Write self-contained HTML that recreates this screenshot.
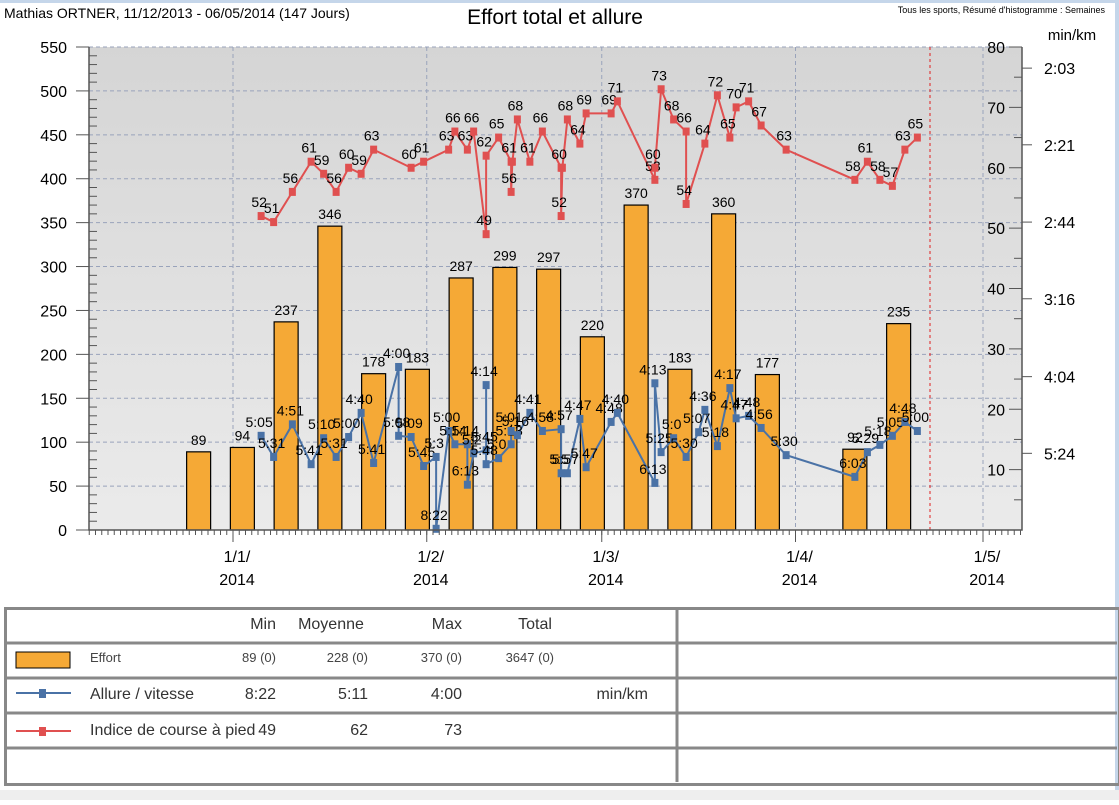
<!DOCTYPE html>
<html><head><meta charset="utf-8">
<style>
body{margin:0;width:1119px;height:800px;overflow:hidden;background:#fff;font-family:"Liberation Sans",sans-serif;}
svg text{font-family:"Liberation Sans",sans-serif;}
</style></head>
<body>
<svg id="c" width="1119" height="800">
<defs><linearGradient id="bg" x1="0" y1="0" x2="0" y2="1"><stop offset="0" stop-color="#d5d5d5"/><stop offset="1" stop-color="#ebebeb"/></linearGradient></defs>
<rect x="0" y="0" width="1119" height="3" fill="#c5d6ea"/>
<rect x="1115" y="0" width="4" height="800" fill="#c5d6ea"/>
<rect x="0" y="790" width="1119" height="10" fill="#eeeeee"/>
<text x="4" y="18" font-size="14" fill="#000">Mathias ORTNER, 11/12/2013 - 06/05/2014 (147 Jours)</text>
<text x="555" y="24" font-size="21" text-anchor="middle" fill="#000">Effort total et allure</text>
<text x="1105" y="13" font-size="9" text-anchor="end" fill="#000">Tous les sports, Résumé d'histogramme : Semaines</text>
<text x="1072" y="40" font-size="15" text-anchor="middle" fill="#000">min/km</text>
<rect x="89" y="47" width="933" height="483" fill="url(#bg)"/>
<g id="grid"></g><g id="bars"></g><g id="blue"></g><g id="red"></g><g id="axes"></g>
</svg>
<div style="position:absolute;left:4px;top:607px;width:1111px;height:173px;border:3px solid #888;box-sizing:content-box">
</div>
<svg style="position:absolute;left:0;top:0" width="1119" height="800">
<g stroke="#888" stroke-width="3">
<line x1="4" y1="643" x2="1117" y2="643"/><line x1="4" y1="678" x2="1117" y2="678"/><line x1="4" y1="713" x2="1117" y2="713"/><line x1="4" y1="748" x2="1117" y2="748"/><line x1="677" y1="607" x2="677" y2="782"/>
</g>
<g font-size="16" fill="#333">
<text x="276" y="629" text-anchor="end">Min</text><text x="331" y="629" text-anchor="middle">Moyenne</text><text x="462" y="629" text-anchor="end">Max</text><text x="535" y="629" text-anchor="middle">Total</text>
</g>
<rect x="16" y="652" width="54" height="16" fill="#f5a936" stroke="#000"/>
<g font-size="13" fill="#444"><text x="90" y="662">Effort</text><text x="276" y="662" text-anchor="end">89 (0)</text><text x="368" y="662" text-anchor="end">228 (0)</text><text x="462" y="662" text-anchor="end">370 (0)</text><text x="554" y="662" text-anchor="end">3647 (0)</text></g>
<line x1="16" y1="693" x2="71" y2="693" stroke="#4a72a6" stroke-width="2"/><rect x="39" y="689" width="7" height="9" fill="#4a72a6"/>
<g font-size="16" fill="#333"><text x="90" y="699">Allure / vitesse</text><text x="276" y="699" text-anchor="end">8:22</text><text x="368" y="699" text-anchor="end">5:11</text><text x="462" y="699" text-anchor="end">4:00</text><text x="648" y="699" text-anchor="end">min/km</text></g>
<line x1="16" y1="731" x2="71" y2="731" stroke="#e05050" stroke-width="2"/><rect x="39" y="727" width="7" height="9" fill="#e05050"/>
<g font-size="16" fill="#333"><text x="90" y="735">Indice de course à pied</text><text x="276" y="735" text-anchor="end">49</text><text x="368" y="735" text-anchor="end">62</text><text x="462" y="735" text-anchor="end">73</text></g>
</svg>
<script>
const barDays=[-5.5,1.5,8.5,15.5,22.5,29.5,36.5,43.5,50.5,57.5,64.5,71.5,78.5,85.5,99.5,106.5];
const barVals=[89,94,237,346,178,183,287,299,297,220,370,183,360,177,92,235];
const redDays=[4.5,6.5,9.5,12.5,14.5,16.5,18.5,20.5,22.5,28.5,30.5,34.5,35.5,37.5,38.5,40.5,40.5,42.5,44.5,44.5,44.7,45.5,47.5,49.5,52.5,52.5,52.7,53.5,55.5,56.5,60.5,61.5,67.5,67.5,68.5,70.5,72.5,72.5,75.5,77.5,79.5,80.5,82.5,84.5,88.5,99.5,101.5,103.5,105.5,107.5,109.5];
const redVals=[52,51,56,61,59,56,60,59,63,60,61,63,66,63,66,49,62,65,61,56,61,68,61,66,60,52,60,68,64,69,69,71,58,60,73,68,66,54,64,72,65,70,71,67,63,58,61,58,57,63,65];
const redLabels=["52","51","56","61","59","56","60","59","63","60","61","63","66","63","66","49","62","65","61","56","","68","61","66","60","52","","68","64","69","69","71","53","60","73","68","66","54","64","72","65","70","71","67","63","58","61","58","57","63","65"];
const blueDays=[4.5,6.5,9.5,12.5,14.5,16.5,18.5,20.5,22.5,26.5,26.5,28.5,30.5,32.5,32.5,34.5,35.5,37.5,37.5,38.5,40.5,40.5,40.5,42.5,44.5,44.5,45.5,47.5,49.5,52.5,52.5,53.5,55.5,56.5,60.5,61.5,67.5,67.5,68.5,70.5,72.5,74.5,75.5,77.5,79.5,80.5,82.5,84.5,88.5,99.5,101.5,103.5,105.5,107.5,109.5];
const blueVals=[15.6,12.1,17.5,10.9,15.2,12.1,15.4,19.4,11.1,27.0,15.6,15.4,10.6,12.1,0.2,16.4,14.2,14.2,7.5,12.7,13.2,24.0,10.9,11.9,14.2,16.4,15.7,19.4,16.4,16.7,9.4,9.4,18.4,10.4,17.9,19.4,7.8,24.3,12.9,15.2,12.1,16.2,19.9,13.9,23.5,18.5,18.9,16.9,12.4,8.8,12.9,14.1,15.6,17.9,16.4];
const blueLabels=["5:05","5:31","4:51","5:41","5:10","5:31","5:00","4:40","5:41","4:00","5:08","5:09","5:45","5:3","8:22","5:00","5:14","5:14","6:13","5:2","5:45","4:14","5:48","5:0","5:13","5:01","5:16","4:41","4:58","4:57","5:5","5:57","4:47","5:47","4:48","4:40","6:13","4:13","5:25","5:0","5:30","5:07","4:36","5:18","4:17","4:47","4:48","4:56","5:30","6:03","5:29","5:18","5:05","4:48","5:00"];
const leftTicks=[0,50,100,150,200,250,300,350,400,450,500,550];
const rightTicks=[10,20,30,40,50,60,70,80];
const paceTicks=[["2:03",76.5],["2:21",63.8],["2:44",51],["3:16",38.3],["4:04",25.4],["5:24",12.7]];
const monthDays=[0,31,59,90,120];
const monthLabels=["1/1/","1/2/","1/3/","1/4/","1/5/"];
const NS="http://www.w3.org/2000/svg";
const X0=89,X1=1022,Y0=530,Y1=47;
const xS=d=>233+6.25*d;
const yL=v=>Y0-v*(Y0-Y1)/550;
const yR=v=>Y0-v*(Y0-Y1)/80;
function mk(p,tag,a,txt){const e=document.createElementNS(NS,tag);for(const k in a)e.setAttribute(k,a[k]);if(txt!==undefined)e.textContent=txt;document.getElementById(p).appendChild(e);return e;}
// grid
leftTicks.forEach(v=>{if(v>0){const e=mk('grid','line',{x1:X0,x2:X1,y1:yL(v),y2:yL(v),stroke:'#99a3bb','stroke-dasharray':'4,3'});

}});
monthDays.forEach(d=>{const e=mk('grid','line',{x1:xS(d),x2:xS(d),y1:Y1,y2:Y0,stroke:'#99a3bb','stroke-dasharray':'4,3'});

});
const dl=mk('grid','line',{x1:930,x2:930,y1:Y1,y2:Y0,stroke:'#e02020','stroke-dasharray':'3,3'});


// bars
barDays.forEach((d,i)=>{const x=xS(d)-12,y=yL(barVals[i]);
const r=mk('bars','rect',{x:x,y:y,width:24,height:Y0-y,fill:'#f5a936',stroke:'#000','stroke-width':1.2});


const t=mk('bars','text',{x:xS(d),y:y-7,'font-size':14,'text-anchor':'middle',fill:'#000'},String(barVals[i]));

});
// series
function series(g,days,vals,labels,col,scale,nm){
const pts=days.map((d,i)=>xS(d)+','+scale(vals[i])).join(' ');
const pl=mk(g,'polyline',{points:pts,fill:'none',stroke:col,'stroke-width':2});


days.forEach((d,i)=>{const x=xS(d),y=scale(vals[i]);
const m=mk(g,'rect',{x:x-3.5,y:y-4,width:7,height:8,fill:col});


if(labels[i]){const t=mk(g,'text',{x:x-2,y:y-9,'font-size':14,'text-anchor':'middle',fill:'#000'},labels[i]);

}});}
series('blue',blueDays,blueVals,blueLabels,'#4a72a6',yR,'allure');
series('red',redDays,redVals,redLabels,'#e05050',yR,'indice');
// axes
const ax=mk('axes','path',{d:`M${X0} ${Y1}V${Y0}H${X1}V${Y1}`,fill:'none',stroke:'#555','stroke-width':1.5});


leftTicks.forEach(v=>{mk('axes','line',{x1:X0-13,x2:X0,y1:yL(v),y2:yL(v),stroke:'#555'});
const t=mk('axes','text',{x:67,y:yL(v)+6,'font-size':16,'text-anchor':'end',fill:'#000'},String(v));


if(v<550)for(let k=1;k<5;k++)mk('axes','line',{x1:X0,x2:X0+8,y1:yL(v+k*10),y2:yL(v+k*10),stroke:'#555'});});
rightTicks.forEach(v=>{mk('axes','line',{x1:X1-13,x2:X1,y1:yR(v),y2:yR(v),stroke:'#555'});
mk('axes','line',{x1:X1-8,x2:X1,y1:yR(v-5),y2:yR(v-5),stroke:'#555'});
const t=mk('axes','text',{x:1005,y:yR(v)+6,'font-size':16,'text-anchor':'end',fill:'#000'},String(v));

});
paceTicks.forEach(p=>{mk('axes','line',{x1:X1,x2:X1+10,y1:yR(p[1]),y2:yR(p[1]),stroke:'#555'});
const t=mk('axes','text',{x:1044,y:yR(p[1])+6,'font-size':16,fill:'#000'},p[0]);

});
for(let d=-23;d<=126;d++){const x=xS(d);if(x<X0||x>X1)continue;mk('axes','line',{x1:x,x2:x,y1:Y0,y2:Y0+5,stroke:'#555'});}
monthDays.forEach((d,i)=>{mk('axes','line',{x1:xS(d),x2:xS(d),y1:Y0,y2:Y0+12,stroke:'#555'});
const t=mk('axes','text',{x:xS(d)+4,y:Y0+32,'font-size':16,'text-anchor':'middle',fill:'#000'},monthLabels[i]);


const t2=mk('axes','text',{x:xS(d)+4,y:Y0+55,'font-size':16,'text-anchor':'middle',fill:'#000'},'2014');

});
</script>
</body></html>
